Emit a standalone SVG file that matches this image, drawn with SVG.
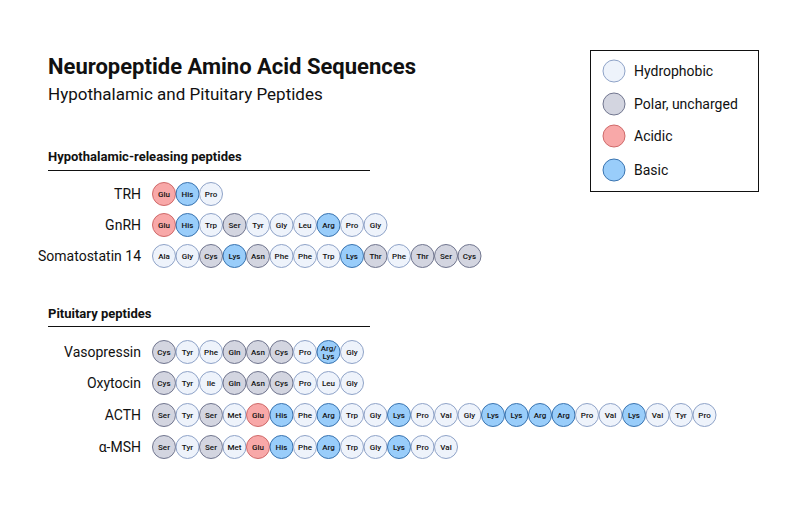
<svg xmlns="http://www.w3.org/2000/svg" width="792" height="525" viewBox="0 0 792 525">
<style>
text{font-family:Roboto,"Liberation Sans",sans-serif;fill:#111}
.h{fill:#eef3fb;stroke:#8fa3c8;stroke-width:1}
.p{fill:#d3d5e0;stroke:#71768f;stroke-width:1}
.a{fill:#f8a8a8;stroke:#cf6a6a;stroke-width:1}
.b{fill:#99cdfa;stroke:#3a74b0;stroke-width:1}
.aa{font-size:8px;font-weight:500;text-anchor:middle}
.lab{font-size:14px;text-anchor:end}
.sec{font-size:13px;font-weight:700}
.lg{font-size:14px}
</style>
<rect width="792" height="525" fill="#fff"/>
<g id="title">
<text x="48" y="74" font-size="22" font-weight="700">Neuropeptide Amino Acid Sequences</text>
<text x="48" y="100" font-size="17">Hypothalamic and Pituitary Peptides</text>
</g>
<g id="legend">
<rect x="590.5" y="50.5" width="168" height="141" fill="#fff" stroke="#111"/>
<circle class="h" cx="614" cy="71" r="11"/><text class="lg" x="634" y="76">Hydrophobic</text>
<circle class="p" cx="614" cy="104" r="11"/><text class="lg" x="634" y="109">Polar, uncharged</text>
<circle class="a" cx="614" cy="136" r="11"/><text class="lg" x="634" y="141">Acidic</text>
<circle class="b" cx="614" cy="170" r="11"/><text class="lg" x="634" y="175">Basic</text>
</g>
<g id="sec-hypo">
<text class="sec" x="48" y="161">Hypothalamic-releasing peptides</text>
<line x1="48" y1="170.5" x2="370" y2="170.5" stroke="#111"/>
</g>
<g id="sec-pit">
<text class="sec" x="48" y="318">Pituitary peptides</text>
<line x1="48" y1="326.5" x2="370" y2="326.5" stroke="#111"/>
</g>
<g id="TRH"><text class="lab" x="141" y="199">TRH</text>
<circle class="a" cx="164" cy="194" r="11.5"/><text class="aa" x="164" y="197">Glu</text>
<circle class="b" cx="187.5" cy="194" r="11.5"/><text class="aa" x="187.5" y="197">His</text>
<circle class="h" cx="211" cy="194" r="11.5"/><text class="aa" x="211" y="197">Pro</text>
</g>
<g id="GnRH"><text class="lab" x="141" y="230">GnRH</text>
<circle class="a" cx="164" cy="225" r="11.5"/><text class="aa" x="164" y="228">Glu</text>
<circle class="b" cx="187.5" cy="225" r="11.5"/><text class="aa" x="187.5" y="228">His</text>
<circle class="h" cx="211" cy="225" r="11.5"/><text class="aa" x="211" y="228">Trp</text>
<circle class="p" cx="234.5" cy="225" r="11.5"/><text class="aa" x="234.5" y="228">Ser</text>
<circle class="h" cx="258" cy="225" r="11.5"/><text class="aa" x="258" y="228">Tyr</text>
<circle class="h" cx="281.5" cy="225" r="11.5"/><text class="aa" x="281.5" y="228">Gly</text>
<circle class="h" cx="305" cy="225" r="11.5"/><text class="aa" x="305" y="228">Leu</text>
<circle class="b" cx="328.5" cy="225" r="11.5"/><text class="aa" x="328.5" y="228">Arg</text>
<circle class="h" cx="352" cy="225" r="11.5"/><text class="aa" x="352" y="228">Pro</text>
<circle class="h" cx="375.5" cy="225" r="11.5"/><text class="aa" x="375.5" y="228">Gly</text>
</g>
<g id="Somatostatin"><text class="lab" x="141" y="261">Somatostatin 14</text>
<circle class="h" cx="164" cy="256" r="11.5"/><text class="aa" x="164" y="259">Ala</text>
<circle class="h" cx="187.5" cy="256" r="11.5"/><text class="aa" x="187.5" y="259">Gly</text>
<circle class="p" cx="211" cy="256" r="11.5"/><text class="aa" x="211" y="259">Cys</text>
<circle class="b" cx="234.5" cy="256" r="11.5"/><text class="aa" x="234.5" y="259">Lys</text>
<circle class="p" cx="258" cy="256" r="11.5"/><text class="aa" x="258" y="259">Asn</text>
<circle class="h" cx="281.5" cy="256" r="11.5"/><text class="aa" x="281.5" y="259">Phe</text>
<circle class="h" cx="305" cy="256" r="11.5"/><text class="aa" x="305" y="259">Phe</text>
<circle class="h" cx="328.5" cy="256" r="11.5"/><text class="aa" x="328.5" y="259">Trp</text>
<circle class="b" cx="352" cy="256" r="11.5"/><text class="aa" x="352" y="259">Lys</text>
<circle class="p" cx="375.5" cy="256" r="11.5"/><text class="aa" x="375.5" y="259">Thr</text>
<circle class="h" cx="399" cy="256" r="11.5"/><text class="aa" x="399" y="259">Phe</text>
<circle class="p" cx="422.5" cy="256" r="11.5"/><text class="aa" x="422.5" y="259">Thr</text>
<circle class="p" cx="446" cy="256" r="11.5"/><text class="aa" x="446" y="259">Ser</text>
<circle class="p" cx="469.5" cy="256" r="11.5"/><text class="aa" x="469.5" y="259">Cys</text>
</g>
<g id="Vasopressin"><text class="lab" x="141" y="357">Vasopressin</text>
<circle class="p" cx="164" cy="352" r="11.5"/><text class="aa" x="164" y="355">Cys</text>
<circle class="h" cx="187.5" cy="352" r="11.5"/><text class="aa" x="187.5" y="355">Tyr</text>
<circle class="h" cx="211" cy="352" r="11.5"/><text class="aa" x="211" y="355">Phe</text>
<circle class="p" cx="234.5" cy="352" r="11.5"/><text class="aa" x="234.5" y="355">Gln</text>
<circle class="p" cx="258" cy="352" r="11.5"/><text class="aa" x="258" y="355">Asn</text>
<circle class="p" cx="281.5" cy="352" r="11.5"/><text class="aa" x="281.5" y="355">Cys</text>
<circle class="h" cx="305" cy="352" r="11.5"/><text class="aa" x="305" y="355">Pro</text>
<circle class="b" cx="328.5" cy="352" r="11.5"/><text class="aa" x="328.5" y="350.5">Arg/</text><text class="aa" x="328.5" y="359">Lys</text>
<circle class="h" cx="352" cy="352" r="11.5"/><text class="aa" x="352" y="355">Gly</text>
</g>
<g id="Oxytocin"><text class="lab" x="141" y="388">Oxytocin</text>
<circle class="p" cx="164" cy="383" r="11.5"/><text class="aa" x="164" y="386">Cys</text>
<circle class="h" cx="187.5" cy="383" r="11.5"/><text class="aa" x="187.5" y="386">Tyr</text>
<circle class="h" cx="211" cy="383" r="11.5"/><text class="aa" x="211" y="386">Ile</text>
<circle class="p" cx="234.5" cy="383" r="11.5"/><text class="aa" x="234.5" y="386">Gln</text>
<circle class="p" cx="258" cy="383" r="11.5"/><text class="aa" x="258" y="386">Asn</text>
<circle class="p" cx="281.5" cy="383" r="11.5"/><text class="aa" x="281.5" y="386">Cys</text>
<circle class="h" cx="305" cy="383" r="11.5"/><text class="aa" x="305" y="386">Pro</text>
<circle class="h" cx="328.5" cy="383" r="11.5"/><text class="aa" x="328.5" y="386">Leu</text>
<circle class="h" cx="352" cy="383" r="11.5"/><text class="aa" x="352" y="386">Gly</text>
</g>
<g id="ACTH"><text class="lab" x="141" y="420">ACTH</text>
<circle class="p" cx="164" cy="415" r="11.5"/><text class="aa" x="164" y="418">Ser</text>
<circle class="h" cx="187.5" cy="415" r="11.5"/><text class="aa" x="187.5" y="418">Tyr</text>
<circle class="p" cx="211" cy="415" r="11.5"/><text class="aa" x="211" y="418">Ser</text>
<circle class="h" cx="234.5" cy="415" r="11.5"/><text class="aa" x="234.5" y="418">Met</text>
<circle class="a" cx="258" cy="415" r="11.5"/><text class="aa" x="258" y="418">Glu</text>
<circle class="b" cx="281.5" cy="415" r="11.5"/><text class="aa" x="281.5" y="418">His</text>
<circle class="h" cx="305" cy="415" r="11.5"/><text class="aa" x="305" y="418">Phe</text>
<circle class="b" cx="328.5" cy="415" r="11.5"/><text class="aa" x="328.5" y="418">Arg</text>
<circle class="h" cx="352" cy="415" r="11.5"/><text class="aa" x="352" y="418">Trp</text>
<circle class="h" cx="375.5" cy="415" r="11.5"/><text class="aa" x="375.5" y="418">Gly</text>
<circle class="b" cx="399" cy="415" r="11.5"/><text class="aa" x="399" y="418">Lys</text>
<circle class="h" cx="422.5" cy="415" r="11.5"/><text class="aa" x="422.5" y="418">Pro</text>
<circle class="h" cx="446" cy="415" r="11.5"/><text class="aa" x="446" y="418">Val</text>
<circle class="h" cx="469.5" cy="415" r="11.5"/><text class="aa" x="469.5" y="418">Gly</text>
<circle class="b" cx="493" cy="415" r="11.5"/><text class="aa" x="493" y="418">Lys</text>
<circle class="b" cx="516.5" cy="415" r="11.5"/><text class="aa" x="516.5" y="418">Lys</text>
<circle class="b" cx="540" cy="415" r="11.5"/><text class="aa" x="540" y="418">Arg</text>
<circle class="b" cx="563.5" cy="415" r="11.5"/><text class="aa" x="563.5" y="418">Arg</text>
<circle class="h" cx="587" cy="415" r="11.5"/><text class="aa" x="587" y="418">Pro</text>
<circle class="h" cx="610.5" cy="415" r="11.5"/><text class="aa" x="610.5" y="418">Val</text>
<circle class="b" cx="634" cy="415" r="11.5"/><text class="aa" x="634" y="418">Lys</text>
<circle class="h" cx="657.5" cy="415" r="11.5"/><text class="aa" x="657.5" y="418">Val</text>
<circle class="h" cx="681" cy="415" r="11.5"/><text class="aa" x="681" y="418">Tyr</text>
<circle class="h" cx="704.5" cy="415" r="11.5"/><text class="aa" x="704.5" y="418">Pro</text>
</g>
<g id="aMSH"><text class="lab" x="141" y="452">α-MSH</text>
<circle class="p" cx="164" cy="447" r="11.5"/><text class="aa" x="164" y="450">Ser</text>
<circle class="h" cx="187.5" cy="447" r="11.5"/><text class="aa" x="187.5" y="450">Tyr</text>
<circle class="p" cx="211" cy="447" r="11.5"/><text class="aa" x="211" y="450">Ser</text>
<circle class="h" cx="234.5" cy="447" r="11.5"/><text class="aa" x="234.5" y="450">Met</text>
<circle class="a" cx="258" cy="447" r="11.5"/><text class="aa" x="258" y="450">Glu</text>
<circle class="b" cx="281.5" cy="447" r="11.5"/><text class="aa" x="281.5" y="450">His</text>
<circle class="h" cx="305" cy="447" r="11.5"/><text class="aa" x="305" y="450">Phe</text>
<circle class="b" cx="328.5" cy="447" r="11.5"/><text class="aa" x="328.5" y="450">Arg</text>
<circle class="h" cx="352" cy="447" r="11.5"/><text class="aa" x="352" y="450">Trp</text>
<circle class="h" cx="375.5" cy="447" r="11.5"/><text class="aa" x="375.5" y="450">Gly</text>
<circle class="b" cx="399" cy="447" r="11.5"/><text class="aa" x="399" y="450">Lys</text>
<circle class="h" cx="422.5" cy="447" r="11.5"/><text class="aa" x="422.5" y="450">Pro</text>
<circle class="h" cx="446" cy="447" r="11.5"/><text class="aa" x="446" y="450">Val</text>
</g>
<g id="connectors"/>
</svg>
